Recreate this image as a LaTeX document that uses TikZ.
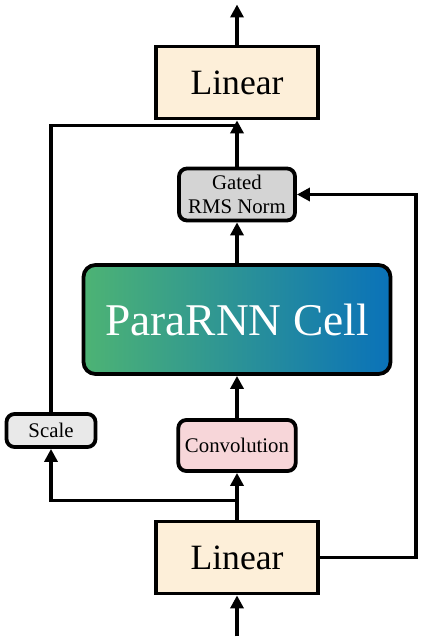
\documentclass[tikz,border=0pt]{standalone}
\usepackage{fontspec}
\setmainfont{Liberation Serif}
\usetikzlibrary{positioning,arrows.meta}
\definecolor{linfill}{HTML}{FDEFD9}
\definecolor{normfill}{HTML}{D4D4D4}
\definecolor{convfill}{HTML}{F7D6D9}
\definecolor{scalefill}{HTML}{E9E9E9}
\definecolor{cellleft}{HTML}{4DB374}
\definecolor{cellright}{HTML}{0A72B9}

\begin{document}
\begin{tikzpicture}[line width=1.9pt,node distance=56pt,on grid,
  >={Triangle[length=6.5pt,width=6.5pt]},
  linbox/.style={draw,fill=linfill,minimum width=81pt,minimum height=36pt,font=\fontsize{17.8}{20}\selectfont},
  smallbox/.style={draw,rounded corners=4pt,minimum width=58pt,minimum height=25.5pt,align=center,font=\fontsize{10.4}{12}\selectfont},
  cellbox/.style={draw,rounded corners=6pt,left color=cellleft,right color=cellright,text=white,minimum width=153.5pt,minimum height=54.5pt,font=\fontsize{22.7}{26}\selectfont}]
  \useasboundingbox (0,0) rectangle (211pt,320.5pt);
  \node[linbox] (lin2) at (118.5pt,41.75pt) {Linear};
  \node[smallbox,fill=convfill] (conv) [above = of lin2] {Convolution};
  \node[cellbox] (cell) [above = 63pt of conv] {ParaRNN Cell};
  \node[smallbox,fill=normfill] (norm) [above = 62.5pt of cell] {Gated\\RMS Norm};
  \node[linbox] (lin1) [above = of norm] {Linear};
  \node[smallbox,fill=scalefill,minimum width=44.5pt,minimum height=16.5pt] (scale) [above left = 7.5pt and 93pt of conv] {Scale};
  \coordinate[below = 39.5pt of lin2] (in);
  \coordinate[above = 39pt of lin1] (out);
  \coordinate[above = 28.5pt of lin2] (split);
  \coordinate[above = 34.5pt of norm] (join);
  \coordinate[right = 89.5pt of lin2] (turn);
  % main path
  \draw[->] (in) -- (lin2);
  \draw[->] (lin2) -- (conv);
  \draw[->] (conv) -- (cell);
  \draw[->] (cell) -- (norm);
  \draw[->] (norm) -- (lin1);
  \draw[->] (lin1) -- (out);
  % side paths
  \draw[->] (split) -| (scale);
  \draw (scale) |- (join);
  \draw[->] (lin2.east) -- (turn) |- (norm.east);
\end{tikzpicture}
\end{document}
